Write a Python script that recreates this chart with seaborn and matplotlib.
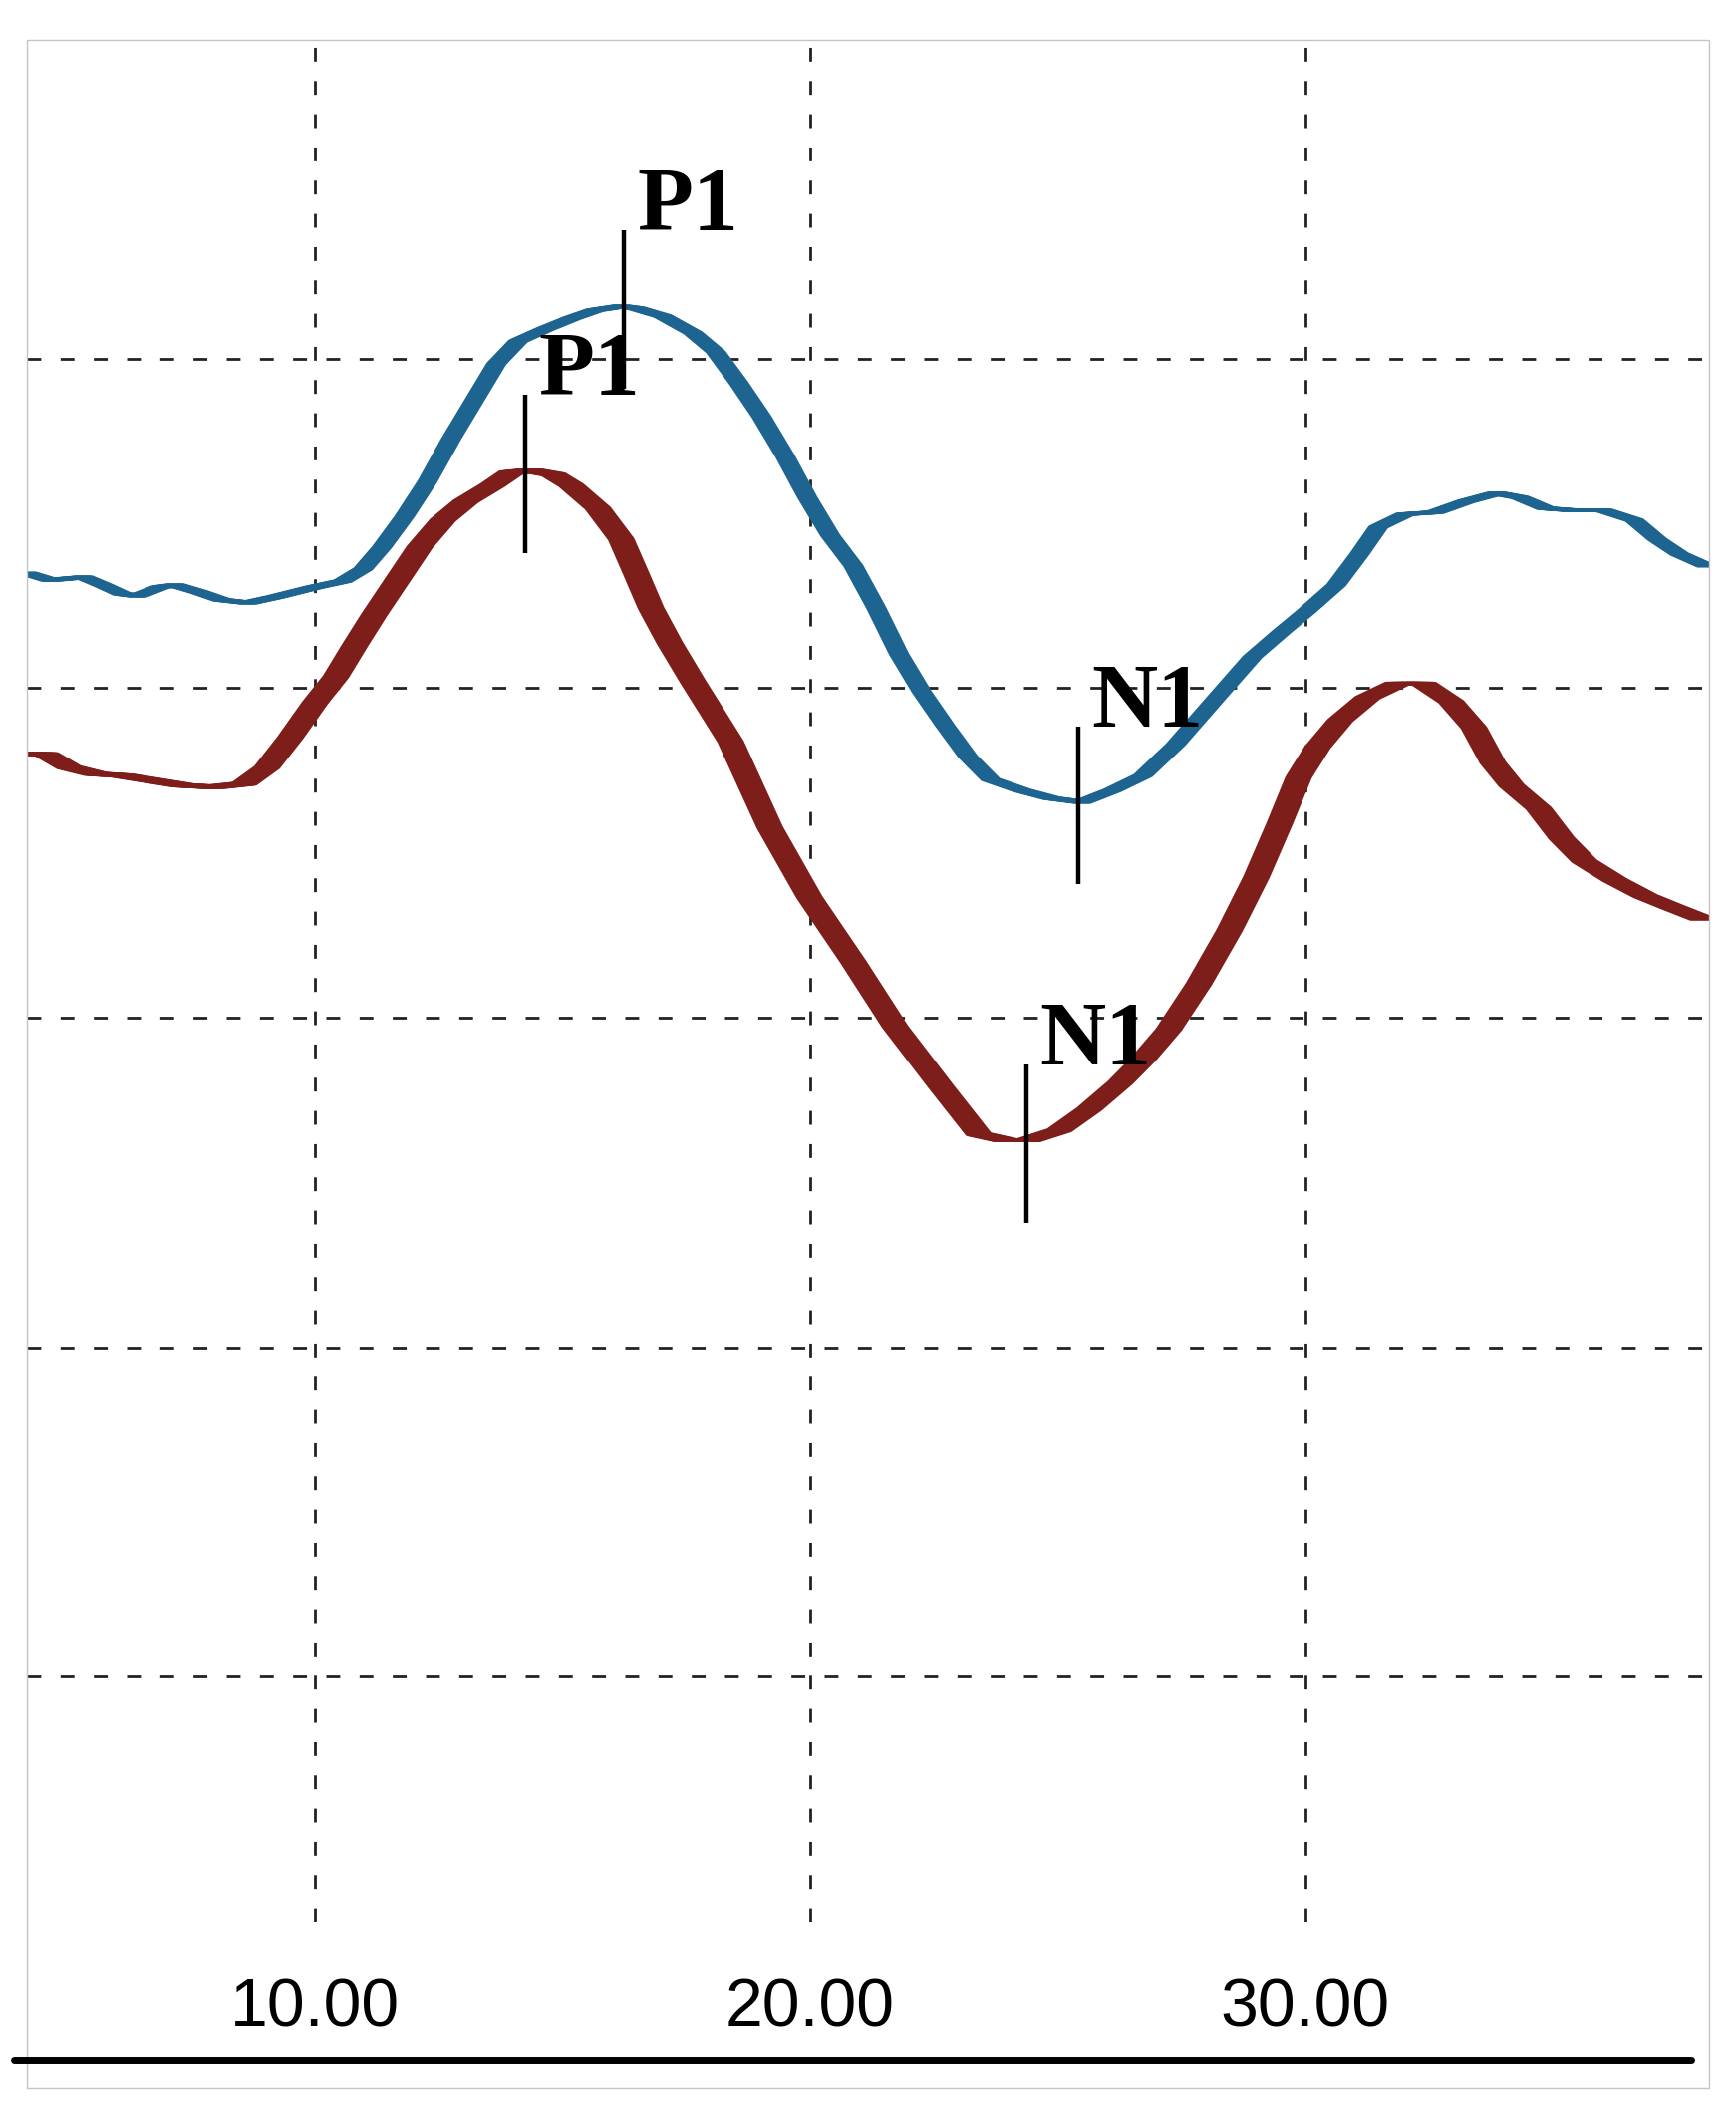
import numpy as np
import pandas as pd
import matplotlib
matplotlib.use('Agg')
import matplotlib.pyplot as plt
import seaborn as sns
from matplotlib.patches import Rectangle
from matplotlib.lines import Line2D

# --- data (latency in ms, amplitude in grid units) ---
blue_t = [4.20, 4.66, 5.34, 5.72, 6.11, 6.43, 6.89, 7.19, 7.66, 8.12, 8.66, 9.21,
          10.01, 10.57, 10.98, 11.36, 11.82, 12.28, 12.75, 13.21, 13.67, 14.11, 14.66,
          15.20, 15.66, 16.19, 16.49, 17.03, 17.64, 18.10, 18.56, 19.02, 19.49, 19.95,
          20.41, 20.88, 21.34, 21.80, 22.26, 22.73, 23.19, 23.65, 24.28, 24.88, 25.50,
          26.11, 26.73, 27.39, 28.18, 28.94, 29.55, 30.01, 30.63, 31.10, 31.48, 32.02,
          32.63, 33.25, 33.87, 34.34, 34.86, 35.40, 36.03, 36.65, 37.11, 37.56, 38.10]
blue_v = [1.349, 1.328, 1.337, 1.313, 1.286, 1.280, 1.307, 1.313, 1.292, 1.268, 1.259, 1.277,
          1.307, 1.325, 1.362, 1.428, 1.522, 1.628, 1.755, 1.870, 1.985, 2.054, 2.091,
          2.124, 2.148, 2.160, 2.154, 2.130, 2.079, 2.021, 1.927, 1.825, 1.707, 1.579,
          1.464, 1.371, 1.244, 1.104, 0.989, 0.887, 0.793, 0.723, 0.690, 0.666, 0.654,
          0.690, 0.735, 0.829, 0.965, 1.095, 1.174, 1.231, 1.313, 1.407, 1.489, 1.528,
          1.534, 1.567, 1.592, 1.579, 1.546, 1.540, 1.540, 1.510, 1.452, 1.407, 1.371]

red_t = [4.20, 4.58, 5.04, 5.58, 6.11, 6.73, 7.35, 7.96, 8.58, 9.04, 9.51, 10.01,
         10.43, 10.81, 11.20, 11.66, 12.12, 12.59, 13.05, 13.59, 13.97, 14.36, 14.82,
         15.18, 15.72, 16.19, 16.49, 16.79, 17.17, 17.64, 18.40, 19.19, 19.99, 20.88,
         21.72, 22.65, 23.41, 23.95, 24.42, 25.04, 25.64, 26.27, 26.73, 27.25, 27.86,
         28.48, 29.02, 29.49, 29.87, 30.25, 30.71, 31.26, 31.86, 32.40, 32.95, 33.41,
         33.79, 34.17, 34.72, 35.18, 35.64, 36.25, 36.87, 37.41, 38.02]
red_v = [0.80, 0.80, 0.76, 0.74, 0.735, 0.72, 0.705, 0.70, 0.71, 0.76, 0.85, 0.956,
         1.035, 1.129, 1.222, 1.325, 1.428, 1.51, 1.567, 1.616, 1.655, 1.661, 1.649,
         1.616, 1.546, 1.452, 1.349, 1.244, 1.138, 1.02, 0.838, 0.578, 0.366, 0.169,
         -0.027, -0.209, -0.354, -0.372, -0.372, -0.342, -0.278, -0.197, -0.127, -0.036, 0.103,
         0.266, 0.427, 0.59, 0.729, 0.82, 0.902, 0.971, 1.014, 1.014, 0.959, 0.88,
         0.775, 0.705, 0.635, 0.545, 0.475, 0.418, 0.369, 0.336, 0.30]

# peak markers: blue P1, red P1, blue N1, red N1
peak_names = ["P1", "P1", "N1", "N1"]
peak_t = [16.25, 14.26, 25.42, 24.38]
peak_v = [2.16, 1.66, 0.654, -0.372]

x_ticks = [10, 20, 30]
x_labels = ["10.00", "20.00", "30.00"]
grid_levels = [-2, -1, 0, 1, 2]

# --- style ---
sns.set_style('white')
plt.rcParams['lines.scale_dashes'] = False
plt.rcParams['font.family'] = ['Liberation Sans', 'DejaVu Sans']

W, H = 1742, 2129
fig = plt.figure(figsize=(W / 100, H / 100), dpi=100)
ax = fig.add_axes([27 / W, 1 - 1928 / H, 1688 / W, 1888 / H])

ax.set_xlim(4.19, 38.16)
ax.set_ylim(-2.744, 2.968)
ax.set_xticks(x_ticks)
ax.set_xticklabels(x_labels)
ax.set_yticks(grid_levels)
ax.grid(True, color='#222222', lw=2.0, linestyle=(0, (10, 14)))
ax.set_axisbelow(True)
ax.tick_params(axis='both', length=0)
ax.tick_params(axis='x', pad=40, labelsize=49, labelcolor='black')
ax.tick_params(axis='y', labelleft=False)
for s in ax.spines.values():
    s.set_visible(False)

# --- waveforms, drawn with a flat "nib" to mimic the plotter pen ---
curves = [(blue_t, blue_v, '#1d6590', 0.34, 2.4),
          (red_t, red_v, '#7e1e1a', 0.46, 2.8)]
for t, v, col, nib, lw in curves:
    df = pd.DataFrame({'t': t, 'v': v})
    for dx in np.linspace(-nib / 2, nib / 2, 15):
        sns.lineplot(x=df['t'] + dx, y=df['v'], color=col, lw=lw, sort=False,
                     estimator=None, ax=ax, solid_joinstyle='round',
                     solid_capstyle='round')
ax.set_xlabel('')
ax.set_ylabel('')

# --- peak ticks and labels ---
ax.vlines(peak_t, np.array(peak_v) - 0.25, np.array(peak_v) + 0.23,
          color='black', lw=3.2, zorder=5)
for name, t, v in zip(peak_names, peak_t, peak_v):
    ax.text(t + 0.27, v + 0.23, name, ha='left', va='baseline', fontsize=66,
            family='Liberation Serif', fontweight='bold', color='black', zorder=6)

# --- outer frame and the heavy base line ---
fig.add_artist(Rectangle((27 / W, 1 - 2095 / H), 1688 / W, (2095 - 40) / H,
                         transform=fig.transFigure, fill=False,
                         edgecolor='#c4c4c4', lw=1.0))
fig.add_artist(Line2D([14 / W, 1697 / W], [1 - 2067 / H] * 2, color='black',
                      lw=5, transform=fig.transFigure))

fig.savefig('out.png', dpi=100, facecolor='white')
